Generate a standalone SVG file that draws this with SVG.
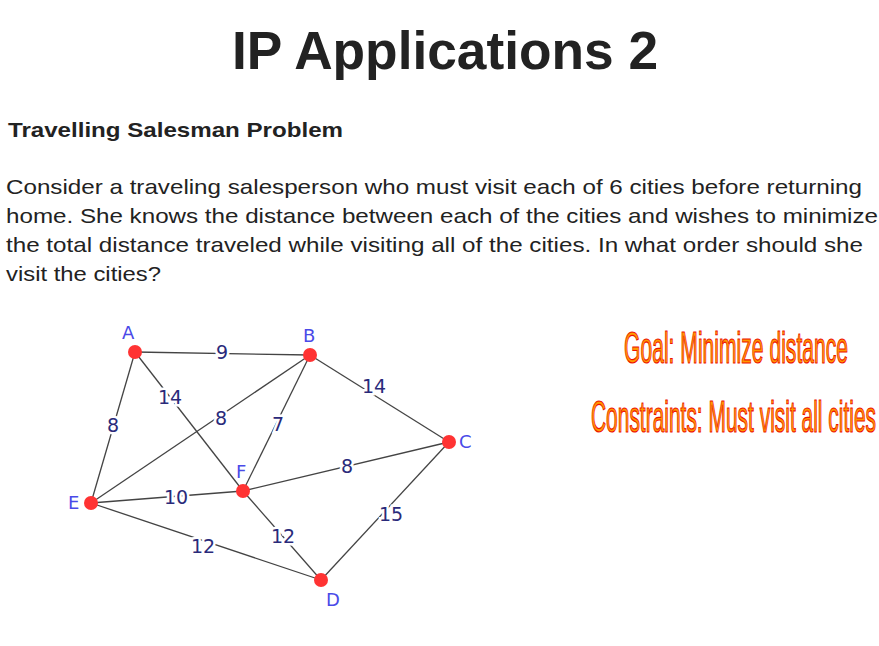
<svg xmlns="http://www.w3.org/2000/svg" width="879" height="646" viewBox="0 0 879 646">
<style>
.t{font-family:"Liberation Sans",Arial,sans-serif;fill:#222}
.e{stroke:#444;stroke-width:1.3}
.w{font-family:"DejaVu Sans",sans-serif;font-size:19px;fill:#2a2a7a;text-anchor:middle;stroke:#fff;stroke-width:5;paint-order:stroke}
.n{fill:#f33}
.nl{font-family:"DejaVu Sans",sans-serif;font-size:18px;fill:#4a4ae8}
.g{font-family:"Liberation Sans",Arial,sans-serif;font-size:44px;fill:#ff9900;stroke:#ee1100;stroke-width:1.2}
</style>
<rect width="879" height="646" fill="#fff"/>
<text class="t" x="445" y="69" font-size="53" font-weight="bold" text-anchor="middle" fill="#000" textLength="426" lengthAdjust="spacingAndGlyphs">IP Applications 2</text>
<text class="t" x="8" y="137" font-size="21" font-weight="bold" fill="#333" textLength="335" lengthAdjust="spacingAndGlyphs">Travelling Salesman Problem</text>
<g class="t" font-size="21" fill="#333">
<text x="6" y="194" textLength="856" lengthAdjust="spacingAndGlyphs">Consider a traveling salesperson who must visit each of 6 cities before returning</text>
<text x="6" y="223" textLength="872" lengthAdjust="spacingAndGlyphs">home. She knows the distance between each of the cities and wishes to minimize</text>
<text x="6" y="252" textLength="857" lengthAdjust="spacingAndGlyphs">the total distance traveled while visiting all of the cities. In what order should she</text>
<text x="6" y="281" textLength="155" lengthAdjust="spacingAndGlyphs">visit the cities?</text>
</g>
<g id="connectors">
<line class="e" x1="135" y1="352" x2="310" y2="355"/>
<line class="e" x1="135" y1="352" x2="91" y2="503"/>
<line class="e" x1="135" y1="352" x2="243" y2="491"/>
<line class="e" x1="310" y1="355" x2="91" y2="503"/>
<line class="e" x1="310" y1="355" x2="243" y2="491"/>
<line class="e" x1="310" y1="355" x2="449" y2="442"/>
<line class="e" x1="243" y1="491" x2="449" y2="442"/>
<line class="e" x1="91" y1="503" x2="243" y2="491"/>
<line class="e" x1="91" y1="503" x2="321" y2="580"/>
<line class="e" x1="243" y1="491" x2="321" y2="580"/>
<line class="e" x1="449" y1="442" x2="321" y2="580"/>
<text class="w" x="222" y="359">9</text>
<text class="w" x="170" y="404">14</text>
<text class="w" x="113" y="432">8</text>
<text class="w" x="221" y="425">8</text>
<text class="w" x="278" y="431">7</text>
<text class="w" x="374" y="393">14</text>
<text class="w" x="347" y="473">8</text>
<text class="w" x="176" y="504">10</text>
<text class="w" x="203" y="553">12</text>
<text class="w" x="283" y="543">12</text>
<text class="w" x="391" y="521">15</text>
</g>
<g id="A"><circle class="n" cx="135" cy="352" r="7"/><text class="nl" x="122" y="339">A</text></g>
<g id="B"><circle class="n" cx="310" cy="355" r="7"/><text class="nl" x="303" y="342">B</text></g>
<g id="C"><circle class="n" cx="449" cy="442" r="7"/><text class="nl" x="459" y="448">C</text></g>
<g id="D"><circle class="n" cx="321" cy="580" r="7"/><text class="nl" x="326" y="606">D</text></g>
<g id="E"><circle class="n" cx="91" cy="503" r="7"/><text class="nl" x="68" y="509">E</text></g>
<g id="F"><circle class="n" cx="243" cy="491" r="7"/><text class="nl" x="236" y="478">F</text></g>
<text class="g" x="624" y="363" textLength="224" lengthAdjust="spacingAndGlyphs">Goal: Minimize distance</text>
<text class="g" x="591" y="432" textLength="285" lengthAdjust="spacingAndGlyphs">Constraints: Must visit all cities</text>
</svg>
